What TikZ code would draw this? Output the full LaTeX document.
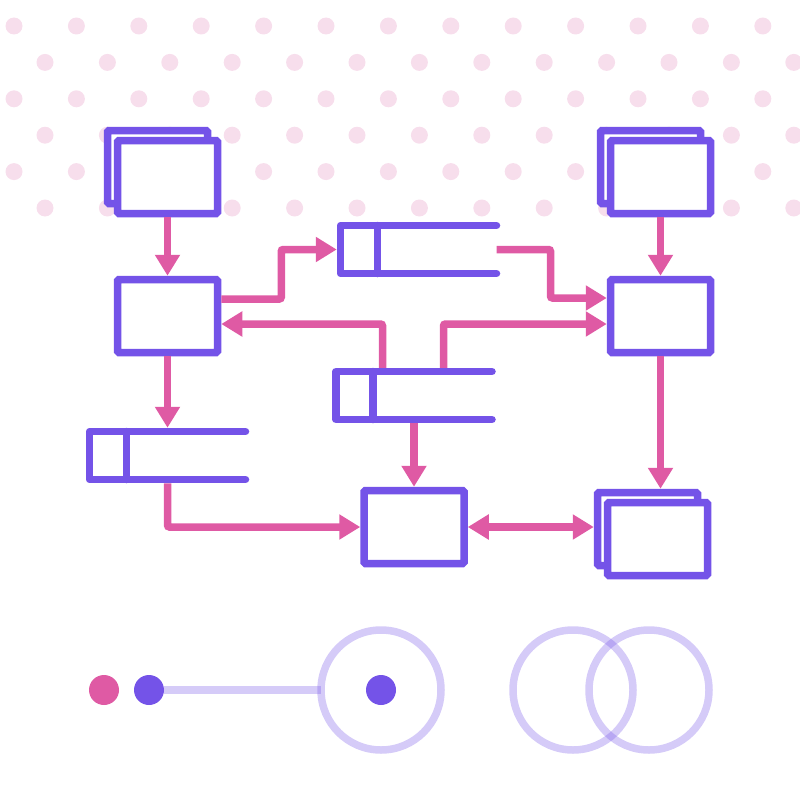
\documentclass[tikz,border=0pt]{standalone}
\usetikzlibrary{arrows.meta}
\definecolor{boxpurple}{HTML}{7453E8}
\definecolor{linkpink}{HTML}{DF5AA4}
\definecolor{dotpink}{HTML}{F7DEEC}

\begin{document}
\begin{tikzpicture}[x=1pt,y=-1pt,
  box/.style={draw=boxpurple,fill=white,line width=7.5pt,rounded corners=1.5pt,minimum width=100pt,minimum height=73pt,inner sep=0pt,outer sep=3.75pt},
  store/.style={minimum width=156pt,minimum height=48pt,inner sep=0pt,outer sep=0pt},
  storeline/.style={draw=boxpurple,line width=7.5pt,line cap=round,line join=round},
  link/.style={draw=linkpink,line width=7.5pt,rounded corners=2pt,-{Triangle[width=24pt,length=21pt]}},
  dot/.style={circle,minimum size=30pt,inner sep=0pt},
  ring/.style={circle,draw=boxpurple,draw opacity=0.3,line width=7.5pt,minimum size=120pt,inner sep=0pt,outer sep=0pt},
  faint/.style={draw=boxpurple,draw opacity=0.3,line width=7.5pt}]
\useasboundingbox (0,0) rectangle (800,800);

% dotted background
\foreach \row in {0,...,5}
  \foreach \col in {0,...,12}
    \fill[dotpink] ({14+31*mod(\row,2)+62.4*\col},{26+36.4*\row}) circle (8.5);

\path (157.5,167) node[box](DocLeftBack){} (167.5,177) node[box](DocLeft){} (650.5,167) node[box](DocRightBack){} (660.5,177) node[box](DocRight){} (167.5,316) node[box](ProcLeft){} (660.5,316) node[box](ProcRight){} (414,527) node[box](ProcMid){} (647.5,529) node[box](DocOutBack){} (657.5,539) node[box](DocOut){};
\path (418.5,249.5) node[store](StoreTop){} (414,395.5) node[store](StoreMid){} (167.5,455.5) node[store](StoreLow){};

\foreach \s in {StoreTop,StoreMid,StoreLow}
  \draw[storeline] (\s.north east) -- (\s.north west) -- (\s.south west) -- (\s.south east) ([xshift=37pt]\s.north west) -- ([xshift=37pt]\s.south west);

\draw[link] (DocLeft.south) -- (ProcLeft.north);
\draw[link] (DocRight.south) -- (ProcRight.north);
\draw[link] ([yshift=17pt]ProcLeft.east) -- ++(60,0) |- ([xshift=-3.75pt]StoreTop.west);
\draw[link] (StoreTop.east) -- ++(54,0) |- ([yshift=18pt]ProcRight.west);
\draw[link] ([xshift=46.5pt,yshift=3.75pt]StoreMid.north west) |- ([yshift=-8pt]ProcLeft.east);
\draw[link] ([xshift=107.5pt,yshift=3.75pt]StoreMid.north west) |- ([yshift=-8pt]ProcRight.west);
\draw[link] ([yshift=-3.75pt]StoreMid.south) -- (ProcMid.north);
\draw[link] (ProcLeft.south) -- ([yshift=3.75pt]StoreLow.north);
\draw[link] ([yshift=-3.75pt]StoreLow.south) |- (ProcMid.west);
\draw[link] (ProcRight.south) -- (ProcRight.south |- DocOutBack.north);
\draw[link,{Triangle[width=24pt,length=21pt]}-{Triangle[width=24pt,length=21pt]}] (ProcMid.east) -- (ProcMid.east -| DocOutBack.west);

\path (104,690) node[dot,fill=linkpink](PinkDot){} (149,690) node[dot,fill=boxpurple](BlueDot){} (381,690) node[ring](Orbit){} (381,690) node[dot,fill=boxpurple](Core){} (573,690) node[ring](VennLeft){} (649,690) node[ring](VennRight){};
\draw[faint] (BlueDot) -- (Orbit.west);
\end{tikzpicture}
\end{document}
